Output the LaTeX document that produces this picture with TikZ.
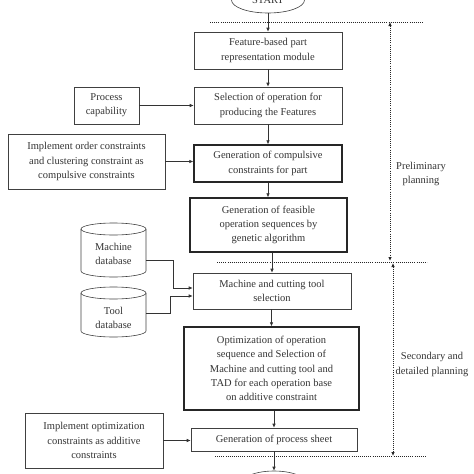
\documentclass[tikz,border=0pt]{standalone}
\usepackage{fontspec}
\setmainfont{Liberation Serif}
\usetikzlibrary{arrows.meta,shapes.geometric}
\begin{document}
\begin{tikzpicture}[x=1pt,y=-1pt,
  every node/.style={font=\fontsize{10.5}{14.2}\selectfont, text=black!80},
  box/.style={draw=black!75, line width=0.6pt, align=center, inner sep=0pt},
  tbox/.style={box, line width=1.3pt, draw=black!85},
  cyl/.style={draw=black!75, line width=0.6pt},
  arr/.style={draw=black!80, line width=0.6pt, -{Latex[length=4pt,width=3.5pt]}},
  dotline/.style={draw=black!85, line width=1pt, dash pattern=on 1pt off 1.1pt},
  dotarr/.style={dotline, {Latex[length=4pt,width=3.5pt]}-{Latex[length=4pt,width=3.5pt]}},
  lbl/.style={align=center, inner sep=0pt},
]
\useasboundingbox (0,0) rectangle (474,474);

% terminals
\node[cyl, ellipse, minimum width=73pt, minimum height=26pt, inner sep=0pt] (start) at (268,0) {START};
\node[cyl, ellipse, minimum width=66pt, minimum height=26pt, inner sep=0pt] (end) at (274,484) {};

% main column
\node[box, minimum width=148pt, minimum height=37pt] (b1) at (268,50.5) {Feature-based part\\representation module};
\node[box, minimum width=148pt, minimum height=37pt] (b2) at (268,105.5) {Selection of operation for\\producing the Features};
\node[tbox, minimum width=148pt, minimum height=37pt] (b3) at (268,163.5) {Generation of compulsive\\constraints for part};
\node[tbox, minimum width=157pt, minimum height=54pt] (b4) at (268.5,225) {Generation of feasible\\operation sequences by\\genetic algorithm};
\node[box, minimum width=158pt, minimum height=36pt] (b5) at (272,291) {Machine and cutting tool\\selection};
\node[tbox, minimum width=175pt, minimum height=83pt] (b6) at (271.5,368.5) {Optimization of operation\\sequence and Selection of\\Machine and cutting tool and\\TAD for each operation base\\on additive constraint};
\node[box, minimum width=166pt, minimum height=23pt] (b7) at (274,439.5) {Generation of process sheet};

% side boxes
\node[box, minimum width=65pt, minimum height=37pt] (pc) at (106.5,105.5) {Process\\capability};
\node[box, minimum width=157pt, minimum height=55pt] (ioc) at (86.5,161.5) {Implement order constraints\\and clustering constraint as\\compulsive constraints};
\node[box, minimum width=138pt, minimum height=55pt] (ioc2) at (94,440.5) {Implement optimization\\constraints as additive\\constraints};

% databases
\node[lbl, minimum width=65pt] (md) at (113.5,254) {Machine\\database};
\draw[cyl] (md.center) ++(-32.5,-25) -- ++(0,42) arc[start angle=180,end angle=0,x radius=32.5,y radius=6] -- ++(0,-42);
\draw[cyl] (md.center) ++(0,-25) ellipse[x radius=32.5,y radius=6];
\node[lbl, minimum width=65pt] (td) at (113.5,318) {Tool\\database};
\draw[cyl] (td.center) ++(-32.5,-25) -- ++(0,38) arc[start angle=180,end angle=0,x radius=32.5,y radius=6] -- ++(0,-38);
\draw[cyl] (td.center) ++(0,-25) ellipse[x radius=32.5,y radius=6];

% main flow
\draw[arr] (start.south) -- (b1.north);
\draw[arr] (b1.south) -- (b2.north);
\draw[arr] (b2.south) -- (b3.north);
\draw[arr] (b3.south) -- (b3.south |- b4.north);
\draw[arr] (b5.north |- b4.south) -- (b5.north);
\draw[arr] (b6.north |- b5.south) -- (b6.north);
\draw[arr] (b7.north |- b6.south) -- (b7.north);
\draw[arr] (b7.south) -- (b7.south |- end.north);

% side inputs
\draw[arr] (pc.east) -- (b2.west);
\draw[arr] (ioc.east) -- (ioc.east -| b3.west);
\draw[arr] (ioc2.east) -- (ioc2.east -| b7.west);
\draw[arr] ([yshift=-6pt]md.east) -- ++(27,0) |- ([yshift=3pt]b5.west);
\draw[arr] ([yshift=5pt]td.east) -- ++(24,0) |- ([yshift=-5pt]b5.west);

% phase separators
\coordinate (t1) at (210,22);  \coordinate (t2) at (423,22);
\coordinate (m1) at (217,262); \coordinate (m2) at (427,262);
\coordinate (e1) at (215,456); \coordinate (e2) at (427,456);
\draw[dotline] (t1) -- (t2);
\draw[dotline] (m1) -- (m2);
\draw[dotline] (e1) -- (e2);

\coordinate (pa) at (390,22);  \coordinate (pb) at (390,261);
\coordinate (sa) at (393,263); \coordinate (sb) at (393,456);
\draw[dotarr] (pa) -- (pb);
\draw[dotarr] (sa) -- (sb);

\node[lbl] (prel) at (421,174) {Preliminary\\planning};
\node[lbl] (sec) at (432,364.5) {Secondary and\\detailed planning};
\end{tikzpicture}
\end{document}
